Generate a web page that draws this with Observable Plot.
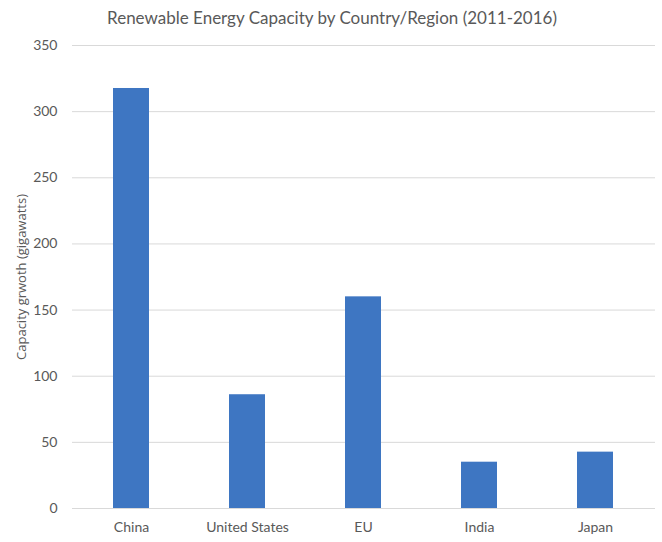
<!DOCTYPE html>
<html><head><meta charset="utf-8">
<script src="https://cdn.jsdelivr.net/npm/d3@7"></script>
<script src="https://cdn.jsdelivr.net/npm/@observablehq/plot@0.6"></script>
<style>
body{margin:0;background:#fff;font-family:Lato,"Open Sans",sans-serif;}
#title{height:36px;line-height:36px;text-align:center;font-size:17px;color:#595959;padding-left:2px;}
</style></head><body>
<div id="title">Renewable Energy Capacity by Country/Region (2011-2016)</div>
<div id="chart"></div>
<script>
const countries = ["China", "United States", "EU", "India", "Japan"];
const capacity = [317.5, 86, 160, 35, 42.6];
const yTicks = [0, 50, 100, 150, 200, 250, 300, 350];
const data = countries.map((c, i) => ({country: c, value: capacity[i]}));

const chart = Plot.plot({
  width: 662,
  height: 506,
  marginTop: 9,
  marginBottom: 34,
  marginLeft: 72,
  marginRight: 7,
  style: {fontFamily: "Lato, sans-serif", fontSize: "14px", color: "#595959", background: "#fff"},
  x: {domain: countries, paddingInner: 0.687, paddingOuter: 0.3435, label: null, tickSize: 0},
  y: {domain: [0, 350], ticks: yTicks, label: null, tickSize: 0},
  marks: [
    Plot.gridY(yTicks, {stroke: "#d9d9d9", strokeOpacity: 1, strokeWidth: 1}),
    Plot.barY(data, {x: "country", y: "value", fill: "#3e76c2"}),
    Plot.axisX({tickSize: 0, tickPadding: 14, fontSize: 14, label: null}),
    Plot.axisY({ticks: yTicks, tickSize: 0, tickPadding: 15, fontSize: 14, label: null}),
    Plot.text(["Capacity grwoth (gigawatts)"], {frameAnchor: "left", dx: -51, rotate: -90, textAnchor: "middle", fontSize: 13, fontFamily: "Open Sans, sans-serif", fill: "#595959"})
  ]
});
document.getElementById("chart").appendChild(chart);
</script>
</body></html>
